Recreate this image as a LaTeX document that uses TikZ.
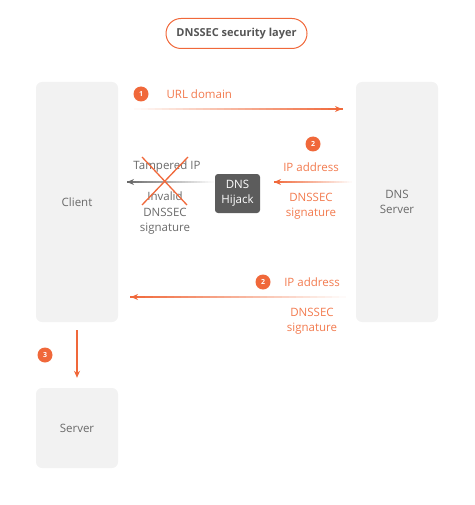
\documentclass[tikz,border=0pt]{standalone}
\usepackage{fontspec}
\setmainfont{Open Sans}
\usetikzlibrary{arrows.meta,positioning,calc}
\definecolor{dnsorange}{HTML}{F0683A}
\definecolor{dnstext}{HTML}{F27A4E}
\definecolor{boxgray}{HTML}{F2F2F2}
\definecolor{labelgray}{HTML}{6A6A6A}
\definecolor{hijackgray}{HTML}{5C5C5C}
\tikzstyle{party} = [fill=boxgray, rounded corners=6pt, text=labelgray, align=center, font=\fontsize{11.5}{15}\selectfont]
\tikzstyle{badge} = [circle, fill=dnsorange, text=white, inner sep=0pt, minimum size=15pt, font=\fontsize{7}{8}\selectfont\bfseries]
\tikzstyle{msg} = [text=dnstext, align=center, font=\fontsize{11.5}{15}\selectfont]
\tikzstyle{flow} = [dnsorange, line width=1.1pt, -{Stealth[length=7pt,width=6pt]}]
\tikzstyle{tip} = [line width=1.1pt, -{Stealth[length=7pt,width=6pt]}]

\begin{document}
\begin{tikzpicture}[x=1pt, y=-1pt]
      \useasboundingbox (0,0) rectangle (474,505);
      % title
      \node[draw=dnsorange, line width=1pt, rounded corners=15pt, minimum width=141pt, minimum height=30pt,
            text=labelgray!80!black, font=\fontsize{11}{13}\selectfont\bfseries] (title) at (236.5,33.5) {DNSSEC security layer};
      % boxes
      \node[party, minimum width=82pt, minimum height=240pt] (client) at (77,202) {Client};
      \node[party, minimum width=82pt, minimum height=240pt] (dns) at (397,202) {DNS\\Server};
      \node[party, minimum width=82pt, minimum height=80pt] (server) at (77,428) {Server};
      \node[fill=hijackgray, rounded corners=3pt, text=white, align=center, minimum width=45pt, minimum height=39pt,
            font=\fontsize{11.5}{15}\selectfont] (hijack) at (237.5,193.5) {DNS\\Hijack};
      % step 1
      \node[badge] (b1) at (141,94) {1};
      \node[msg, anchor=west] (url) at (163,94) {URL domain};
      \coordinate (u1s) at (134,109);
      \coordinate (u1e) at (342,109);
      \foreach \i [evaluate=\i as \pc using 3+\i*3.3] in {0,...,29}
        \draw[dnsorange!\pc, line width=1.1pt] ($(u1s)!\i/30!(u1e)$) -- ($(u1s)!\i/30+0.036!(u1e)$);
      \draw[tip, dnsorange] ([xshift=-5pt]u1e) -- (u1e);
      % step 2, hijacked
      \node[badge] (b2a) at (313,144) {2};
      \node[msg] (ipa) at (311,167) {IP address};
      \node[msg] (siga) at (311,206) {DNSSEC\\signature};
      \coordinate (h2s) at (352,182);
      \coordinate (h2e) at (274,182);
      \foreach \i [evaluate=\i as \pc using 3+\i*3.3] in {0,...,29}
        \draw[dnsorange!\pc, line width=1.1pt] ($(h2s)!\i/30!(h2e)$) -- ($(h2s)!\i/30+0.036!(h2e)$);
      \draw[tip, dnsorange] ([xshift=5pt]h2e) -- (h2e);
      \coordinate (t2s) at (214,182);
      \coordinate (t2e) at (127,182);
      \foreach \i [evaluate=\i as \pc using 3+\i*3.3] in {0,...,29}
        \draw[labelgray!\pc, line width=1.1pt] ($(t2s)!\i/30!(t2e)$) -- ($(t2s)!\i/30+0.036!(t2e)$);
      \draw[tip, labelgray] ([xshift=5pt]t2e) -- (t2e);
      \node[text=labelgray, font=\fontsize{11.5}{15}\selectfont] (tampered) at (167,167) {Tampered IP};
      \node[text=labelgray, align=center, font=\fontsize{11.5}{15.5}\selectfont] (invalid) at (165,213.5) {Invalid\\DNSSEC\\signature};
      \coordinate (xa) at (142,157);
      \coordinate (xb) at (187,205);
      \coordinate (xc) at (188,157);
      \coordinate (xd) at (142,205);
      \draw[dnsorange, line width=1.3pt] (xa) -- (xb) (xc) -- (xd);
      % step 2, secured
      \node[badge] (b2b) at (263,282) {2};
      \node[msg] (ipb) at (312,282) {IP address};
      \node[msg] (sigb) at (312,321.5) {DNSSEC\\signature};
      \coordinate (s2s) at (346,297);
      \coordinate (s2e) at (131,297);
      \foreach \i [evaluate=\i as \pc using 3+\i*3.3] in {0,...,29}
        \draw[dnsorange!\pc, line width=1.1pt] ($(s2s)!\i/30!(s2e)$) -- ($(s2s)!\i/30+0.036!(s2e)$);
      \draw[tip, dnsorange] ([xshift=5pt]s2e) -- (s2e);
      % step 3
      \node[badge] (b3) at (45,355) {3};
      \draw[flow] ([yshift=-8pt]client.south) -- ([yshift=10pt]server.north);
    \end{tikzpicture}
\end{document}
